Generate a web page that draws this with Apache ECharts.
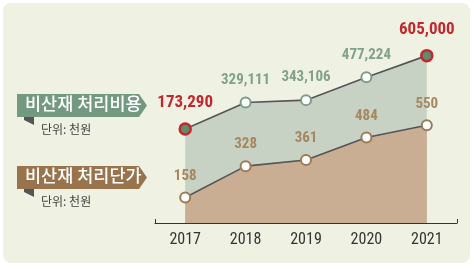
<!DOCTYPE html>
<html><head><meta charset="utf-8">
<script src="https://cdn.jsdelivr.net/npm/echarts@6/dist/echarts.min.js"></script>
<style>html,body{margin:0;padding:0;background:#fff}#c{width:474px;height:269px}</style>
</head><body><div id="c"></div>
<script>
const years = ['2017','2018','2019','2020','2021'];
const cost = [173290, 329111, 343106, 477224, 605000];   // 비산재 처리비용 (천원)
const unitCost = [158, 328, 361, 484, 550];               // 비산재 처리단가 (천원)
const costTitle = '비산재 처리비용';
const unitTitle = '비산재 처리단가';
const unitNote = '단위: 천원';

const fmt = v => String(v).replace(/\B(?=(\d{3})+(?!\d))/g, ',');
const numFont = '"Liberation Sans Narrow","Roboto Condensed","Liberation Sans",sans-serif';
const last = cost.length - 1;

const costData = cost.map((v, i) => {
  const end = (i === 0 || i === last);
  return {
    value: v,
    symbolSize: end ? 11 : 10,
    itemStyle: end ? {color: '#5f8c6c', borderColor: '#c4262e', borderWidth: 2.5}
                   : {color: '#ffffff', borderColor: '#7c9c86', borderWidth: 2},
    label: end ? {color: '#c1272d', fontSize: 17, fontWeight: 'bold', distance: 11}
               : {color: '#83a08c', fontSize: 15, fontWeight: 'bold', distance: 9}
  };
});

const chart = echarts.init(document.getElementById('c'), null, {renderer: 'canvas'});
chart.setOption({
  animation: false,
  backgroundColor: '#ffffff',
  graphic: [
    {type: 'rect', z: -10, shape: {x: 3, y: 3, width: 467, height: 260, r: 8}, style: {fill: '#eff2e3'}},
    // cost badge
    {type: 'polygon', shape: {points: [[24,115],[34,115],[34,125],[24,120]]}, style: {fill: '#555555'}},
    {type: 'polygon', shape: {points: [[17,94],[139,94],[147,105.5],[139,117],[17,117]]}, style: {fill: '#739a80'}},
    {type: 'text', left: 25, top: 95, style: {text: costTitle, fill: '#ffffff', font: '500 17.5px "Noto Sans CJK KR", sans-serif'}},
    {type: 'text', left: 41, top: 123, style: {text: unitNote, fill: '#404040', font: '12px "Noto Sans CJK KR", sans-serif'}},
    // unit badge
    {type: 'polygon', shape: {points: [[24,187],[34,187],[34,197],[24,192]]}, style: {fill: '#555555'}},
    {type: 'polygon', shape: {points: [[17,166],[139,166],[147,177.5],[139,189],[17,189]]}, style: {fill: '#98734c'}},
    {type: 'text', left: 25, top: 167, style: {text: unitTitle, fill: '#ffffff', font: '500 17.5px "Noto Sans CJK KR", sans-serif'}},
    {type: 'text', left: 41, top: 195, style: {text: unitNote, fill: '#404040', font: '12px "Noto Sans CJK KR", sans-serif'}}
  ],
  grid: {left: 155, right: 17, top: 23, bottom: 46},
  xAxis: {
    type: 'category', data: years, boundaryGap: true,
    axisLine: {onZero: false, lineStyle: {color: '#333', width: 1}},
    axisTick: {show: true, inside: true, length: 4, lineStyle: {color: '#333'}},
    axisLabel: {color: '#333', fontSize: 16, fontFamily: numFont, margin: 9}
  },
  yAxis: [
    {type: 'value', min: -380000, max: 797000, show: false, splitLine: {show: false}},
    {type: 'value', min: 19, max: 1106, show: false, splitLine: {show: false}}
  ],
  series: [
    {
      name: costTitle, type: 'line', yAxisIndex: 0, z: 2,
      data: costData, symbol: 'circle',
      lineStyle: {color: '#555', width: 1.6},
      areaStyle: {color: '#c7d2c5', opacity: 1, origin: 'start'},
      label: {show: true, position: 'top', fontFamily: numFont, formatter: p => fmt(p.value)}
    },
    {
      name: unitTitle, type: 'line', yAxisIndex: 1, z: 3,
      data: unitCost, symbol: 'circle', symbolSize: 10,
      itemStyle: {color: '#ffffff', borderColor: '#9b7a55', borderWidth: 2},
      lineStyle: {color: '#555', width: 1.6},
      areaStyle: {color: '#c9ae93', opacity: 1, origin: 'start'},
      label: {show: true, position: 'top', distance: 8, color: '#a8875f', fontSize: 15, fontWeight: 'bold', fontFamily: numFont}
    }
  ]
});
</script></body></html>
